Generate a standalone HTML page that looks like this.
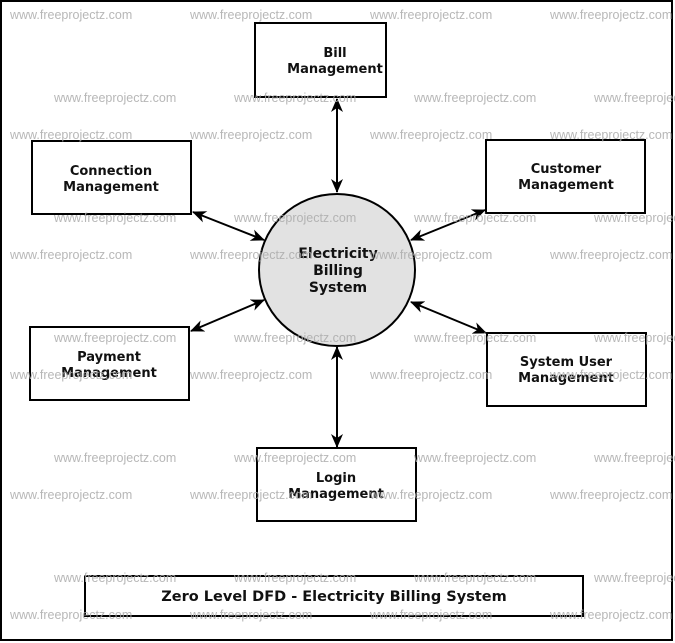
<!DOCTYPE html>
<html><head><style>body{margin:0;background:#fff}svg{display:block}</style></head><body>
<svg width="675" height="643" xmlns="http://www.w3.org/2000/svg">
<defs><marker id="a" markerWidth="14" markerHeight="12" refX="13" refY="6" orient="auto-start-reverse" markerUnits="userSpaceOnUse"><path d="M0,0 L14,6 L0,12 L4,6z" fill="#000"/></marker></defs>
<rect x="1" y="1" width="671" height="639" fill="#fff" stroke="#000" stroke-width="2"/>
<g fill="none" stroke="#000" stroke-width="2">
<rect x="255" y="23" width="131" height="74"/>
<rect x="32" y="141" width="159" height="73"/>
<rect x="486" y="140" width="159" height="73"/>
<rect x="30" y="327" width="159" height="73"/>
<rect x="487" y="333" width="159" height="73"/>
<rect x="257" y="448" width="159" height="73"/>
<rect x="85" y="576" width="498" height="40"/>
</g>
<ellipse cx="337" cy="270" rx="78" ry="76" fill="#e2e2e2" stroke="#000" stroke-width="2"/>
<g stroke="#000" stroke-width="2" marker-start="url(#a)" marker-end="url(#a)">
<line x1="337" y1="99" x2="337" y2="192"/>
<line x1="193" y1="212" x2="264" y2="240"/>
<line x1="485" y1="210" x2="411" y2="240"/>
<line x1="191" y1="331" x2="264" y2="300"/>
<line x1="486" y1="333" x2="411" y2="302"/>
<line x1="337" y1="347" x2="337" y2="447"/>
</g>
<g font-family="DejaVu Sans, sans-serif" font-weight="bold" font-size="13" fill="#111" text-anchor="middle">
<text x="335" y="57">Bill</text><text x="335" y="73">Management</text>
<text x="111" y="175">Connection</text><text x="111" y="191">Management</text>
<text x="566" y="173">Customer</text><text x="566" y="189">Management</text>
<text x="109" y="361">Payment</text><text x="109" y="377">Management</text>
<text x="566" y="366">System User</text><text x="566" y="382">Management</text>
<text x="336" y="482">Login</text><text x="336" y="498">Management</text>
<g font-size="14"><text x="338" y="258">Electricity</text><text x="338" y="275">Billing</text><text x="338" y="292">System</text></g>
<text x="334" y="601" font-size="14.5">Zero Level DFD - Electricity Billing System</text>
</g>
<g font-family="Liberation Sans, Arial, sans-serif" font-size="12.5" fill="#aaa" fill-opacity="0.85">
<text x="10" y="19">www.freeprojectz.com</text><text x="190" y="19">www.freeprojectz.com</text><text x="370" y="19">www.freeprojectz.com</text><text x="550" y="19">www.freeprojectz.com</text>
<text x="54" y="102">www.freeprojectz.com</text><text x="234" y="102">www.freeprojectz.com</text><text x="414" y="102">www.freeprojectz.com</text><text x="594" y="102">www.freeprojectz.com</text>
<text x="10" y="139">www.freeprojectz.com</text><text x="190" y="139">www.freeprojectz.com</text><text x="370" y="139">www.freeprojectz.com</text><text x="550" y="139">www.freeprojectz.com</text>
<text x="54" y="222">www.freeprojectz.com</text><text x="234" y="222">www.freeprojectz.com</text><text x="414" y="222">www.freeprojectz.com</text><text x="594" y="222">www.freeprojectz.com</text>
<text x="10" y="259">www.freeprojectz.com</text><text x="190" y="259">www.freeprojectz.com</text><text x="370" y="259">www.freeprojectz.com</text><text x="550" y="259">www.freeprojectz.com</text>
<text x="54" y="342">www.freeprojectz.com</text><text x="234" y="342">www.freeprojectz.com</text><text x="414" y="342">www.freeprojectz.com</text><text x="594" y="342">www.freeprojectz.com</text>
<text x="10" y="379">www.freeprojectz.com</text><text x="190" y="379">www.freeprojectz.com</text><text x="370" y="379">www.freeprojectz.com</text><text x="550" y="379">www.freeprojectz.com</text>
<text x="54" y="462">www.freeprojectz.com</text><text x="234" y="462">www.freeprojectz.com</text><text x="414" y="462">www.freeprojectz.com</text><text x="594" y="462">www.freeprojectz.com</text>
<text x="10" y="499">www.freeprojectz.com</text><text x="190" y="499">www.freeprojectz.com</text><text x="370" y="499">www.freeprojectz.com</text><text x="550" y="499">www.freeprojectz.com</text>
<text x="54" y="582">www.freeprojectz.com</text><text x="234" y="582">www.freeprojectz.com</text><text x="414" y="582">www.freeprojectz.com</text><text x="594" y="582">www.freeprojectz.com</text>
<text x="10" y="619">www.freeprojectz.com</text><text x="190" y="619">www.freeprojectz.com</text><text x="370" y="619">www.freeprojectz.com</text><text x="550" y="619">www.freeprojectz.com</text>
</g>
</svg>
</body></html>
